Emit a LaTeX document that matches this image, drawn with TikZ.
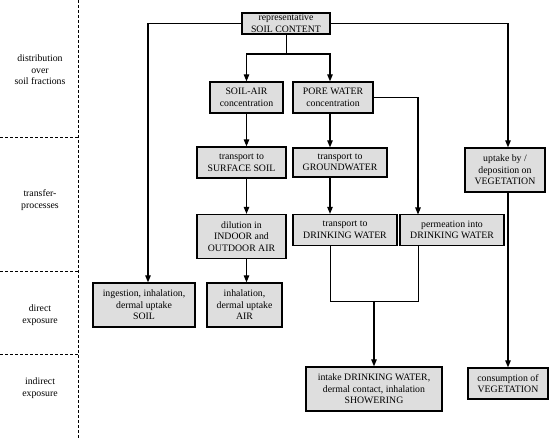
\documentclass[tikz,border=0pt]{standalone}
\usepackage{fontspec}
\setmainfont{Liberation Serif}
\usepackage{tikz}
\usetikzlibrary{calc}
\usetikzlibrary{arrows.meta}
\tikzset{
  procbox/.style={draw, line width=1.3pt, fill=black!13, align=center, inner sep=0.5pt,
    font=\fontsize{9.8}{11.6}\selectfont},
  flow/.style={line width=1.1pt, -{Triangle[length=7pt,width=5.5pt]}},
  link/.style={line width=0.9pt},
  sep/.style={line width=1pt, dash pattern=on 3pt off 2pt},
  lbl/.style={align=center, font=\fontsize{9.8}{11.6}\selectfont}
}

\begin{document}
\begin{tikzpicture}[x=1pt, y=-1pt]
        \useasboundingbox (0,0) rectangle (549,438);
        % left column
        \draw[sep] (78,0) -- (78,438);
        \draw[sep] (0,138) -- (78,138);
        \draw[sep] (0,272) -- (78,272);
        \draw[sep] (0,355) -- (78,355);
        \node[lbl] (lfrac) at (40,70) {distribution\\over\\soil fractions};
        \node[lbl] (ltrans) at (40,200) {transfer-\\processes};
        \node[lbl] (ldirect) at (40,315) {direct\\exposure};
        \node[lbl] (lindirect) at (40,388) {indirect\\exposure};
        % row 1
        \node[procbox, minimum width=88pt, minimum height=21pt] (top) at (286,23.5) {representative\\SOIL CONTENT};
        % row 2
        \node[procbox, minimum width=73pt, minimum height=31pt] (soilair) at (246.5,97.5) {SOIL-AIR\\concentration};
        \node[procbox, minimum width=80pt, minimum height=31pt] (pore) at (333,97.5) {PORE WATER\\concentration};
        % row 3
        \node[procbox, minimum width=89pt, minimum height=31pt] (surface) at (241.5,162.5) {transport to\\SURFACE SOIL};
        \node[procbox, minimum width=94pt, minimum height=29pt] (ground) at (340,162.5) {transport to\\GROUNDWATER};
        \node[procbox, minimum width=80pt, minimum height=44pt] (uptake) at (505,170) {uptake by /\\deposition on\\VEGETATION};
        % row 4
        \node[procbox, minimum width=89pt, minimum height=44pt] (dilution) at (241.5,236.5) {dilution in\\INDOOR and\\OUTDOOR AIR};
        \node[procbox, minimum width=104pt, minimum height=31pt] (transdw) at (345,230) {transport to\\DRINKING WATER};
        \node[procbox, minimum width=104pt, minimum height=31pt] (perm) at (452,230) {permeation into\\DRINKING WATER};
        % row 5
        \node[procbox, minimum width=102pt, minimum height=44pt] (soil) at (144,305) {ingestion, inhalation,\\dermal uptake\\SOIL};
        \node[procbox, minimum width=75pt, minimum height=44pt] (air) at (244.5,305) {inhalation,\\dermal uptake\\AIR};
        % row 6
        \node[procbox, minimum width=136pt, minimum height=44pt] (shower) at (374,389) {intake DRINKING WATER,\\dermal contact, inhalation\\SHOWERING};
        \node[procbox, minimum width=80pt, minimum height=31pt] (consum) at (508,383.5) {consumption of\\VEGETATION};
        % connectors
        \coordinate (split) at (286,54);
        \coordinate (permin) at (418,214.5);
        \coordinate (join) at (374,301);
        \draw[flow] (top.west) -| ([xshift=4pt]soil.north);
        \draw[flow] (top.east) -| ([xshift=3pt]uptake.north);
        \draw[link] (top.south) -- (split);
        \draw[flow] (split) -| (soilair.north);
        \draw[flow] (split) -| ([xshift=-3pt]pore.north);
        \draw[flow] (soilair.south) -- (soilair.south |- surface.north);
        \draw[flow] (soilair.south |- surface.south) -- (soilair.south |- dilution.north);
        \draw[flow] (soilair.south |- dilution.south) -- (soilair.south |- air.north);
        \draw[flow] ([xshift=-3pt]pore.south) -- ([xshift=-3pt]pore.south |- ground.north);
        \draw[flow] ([xshift=-3pt]pore.south |- ground.south) -- ([xshift=-3pt]pore.south |- transdw.north);
        \draw[flow] (pore.east) -| (permin);
        \draw[link] ([xshift=-3pt]pore.south |- transdw.south) |- (join);
        \draw[link] (permin |- perm.south) |- (join);
        \draw[flow] (join) -- (shower.north);
        \draw[flow] ([xshift=3pt]uptake.south) -- ([xshift=3pt]uptake.south |- consum.north);
\end{tikzpicture}
\end{document}
